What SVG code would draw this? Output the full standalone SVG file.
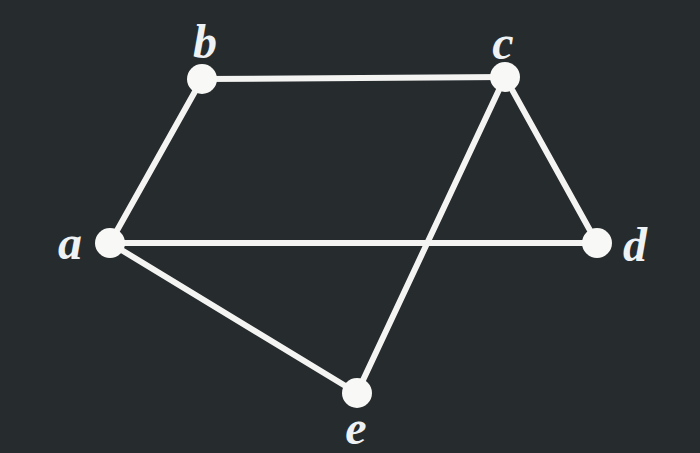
<svg xmlns="http://www.w3.org/2000/svg" width="700" height="453" viewBox="0 0 700 453">
<style>
.edge{stroke:#f4f4f2;stroke-width:6;stroke-linecap:round;fill:none}
.node{fill:#f8f8f6}
.lbl{font-family:"Liberation Serif",serif;font-style:italic;font-weight:bold;font-size:48px;fill:#eef2f4;text-anchor:middle}
</style>
<rect width="700" height="453" fill="#262b2e"/>
<g id="connectors">
<line class="edge" x1="202" y1="79" x2="505" y2="77"/>
<line class="edge" x1="202" y1="79" x2="110" y2="243"/>
<line class="edge" x1="505" y1="77" x2="597" y2="243"/>
<line class="edge" x1="505" y1="77" x2="357" y2="393"/>
<line class="edge" x1="110" y1="243" x2="597" y2="243"/>
<line class="edge" x1="110" y1="243" x2="357" y2="393"/>
</g>
<g id="node-a"><circle class="node" cx="110" cy="243" r="15"/><text class="lbl" x="70" y="259">a</text></g>
<g id="node-b"><circle class="node" cx="202" cy="79" r="15"/><text class="lbl" x="205" y="58">b</text></g>
<g id="node-c"><circle class="node" cx="505" cy="77" r="15"/><text class="lbl" x="503" y="59">c</text></g>
<g id="node-d"><circle class="node" cx="597" cy="243" r="15"/><text class="lbl" x="635" y="261">d</text></g>
<g id="node-e"><circle class="node" cx="357" cy="393" r="15"/><text class="lbl" x="356" y="444">e</text></g>
</svg>
